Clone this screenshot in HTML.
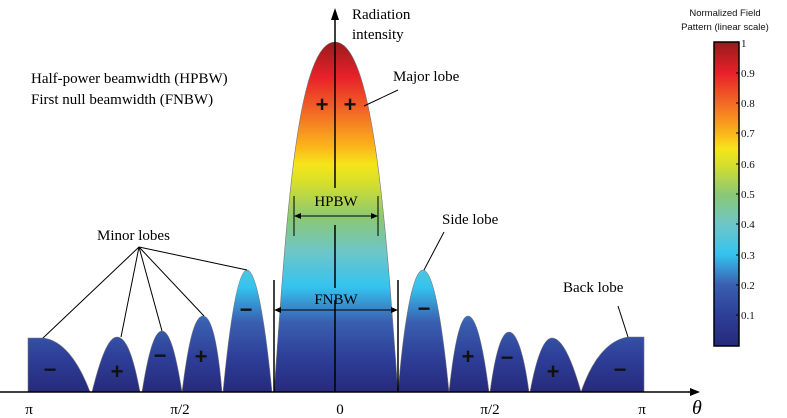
<!DOCTYPE html>
<html><head><meta charset="utf-8"><style>
body{margin:0;background:#fff;}
svg{display:block;font-family:"Liberation Serif",serif;}
</style></head><body>
<svg width="787" height="418" viewBox="0 0 787 418" xmlns="http://www.w3.org/2000/svg">
<defs>
<linearGradient id="g" gradientUnits="userSpaceOnUse" x1="0" y1="392" x2="0" y2="42">
<stop offset="0" stop-color="#262a7a"/>
<stop offset="0.1" stop-color="#2e3f99"/>
<stop offset="0.2" stop-color="#3a5fb0"/>
<stop offset="0.3" stop-color="#34c3ef"/>
<stop offset="0.4" stop-color="#6dc6c8"/>
<stop offset="0.5" stop-color="#8cc873"/>
<stop offset="0.6" stop-color="#d7e02a"/>
<stop offset="0.65" stop-color="#f6e51a"/>
<stop offset="0.7" stop-color="#fbb61a"/>
<stop offset="0.8" stop-color="#f26a25"/>
<stop offset="0.9" stop-color="#e8212a"/>
<stop offset="1" stop-color="#9a1a1d"/>
</linearGradient>
<linearGradient id="cb" gradientUnits="userSpaceOnUse" x1="0" y1="345" x2="0" y2="43">
<stop offset="0" stop-color="#262a7a"/>
<stop offset="0.1" stop-color="#2e3f99"/>
<stop offset="0.2" stop-color="#3a5fb0"/>
<stop offset="0.3" stop-color="#34c3ef"/>
<stop offset="0.4" stop-color="#6dc6c8"/>
<stop offset="0.5" stop-color="#8cc873"/>
<stop offset="0.6" stop-color="#d7e02a"/>
<stop offset="0.65" stop-color="#f6e51a"/>
<stop offset="0.7" stop-color="#fbb61a"/>
<stop offset="0.8" stop-color="#f26a25"/>
<stop offset="0.9" stop-color="#e8212a"/>
<stop offset="1" stop-color="#9a1a1d"/>
</linearGradient>
</defs>
<g fill="url(#g)" stroke="#777" stroke-width="0.6">
<path d="M28,392 L28,338 L43,338 C62,340 78,360 90,392 Z"/>
<path d="M92,392 C100,360 108,337 117,337 C127,337 134,360 140,392 Z"/>
<path d="M142,392 C148,355 154,331 162,331 C170,331 176,355 182,392 Z"/>
<path d="M182,392 C188,345 194,316 203,316 C212,316 218,345 222,392 Z"/>
<path d="M223,392 C230,320 238,270 247,270 C256,270 265,320 272,392 Z"/>
<path d="M274,392 C286,230 296,42 335,42 C374,42 386,230 398,392 Z"/>
<path d="M398,392 C404,320 413,270 423,270 C433,270 442,320 449,392 Z"/>
<path d="M449,392 C454,345 460,316 468,316 C476,316 483,345 489,392 Z"/>
<path d="M490,392 C495,355 501,332 509,332 C517,332 524,355 529,392 Z"/>
<path d="M530,392 C536,360 543,338 552,338 C562,338 572,360 581,392 Z"/>
<path d="M581,392 C592,360 608,340 628,337 L644,337 L644,392 Z"/>
</g>
<g stroke="#000" fill="none" stroke-width="1.5">
<line x1="0" y1="392" x2="694" y2="392"/>
<line x1="335" y1="392" x2="335" y2="300"/>
<line x1="335" y1="288" x2="335" y2="225"/>
<line x1="335" y1="188" x2="335" y2="16"/>
<line x1="274" y1="280" x2="274" y2="392"/>
<line x1="398" y1="280" x2="398" y2="392"/>
<line x1="278" y1="310" x2="394" y2="310" stroke-width="1"/>
<line x1="294" y1="196" x2="294" y2="236" stroke-width="1"/>
<line x1="378" y1="196" x2="378" y2="236" stroke-width="1"/>
<line x1="298" y1="216" x2="374" y2="216" stroke-width="1"/>
</g>
<g fill="#000">
<polygon points="700,392 690,388 690,396"/>
<polygon points="335,8 331,20 339,20"/>
<polygon points="274,310 281,307 281,313"/>
<polygon points="398,310 391,307 391,313"/>
<polygon points="294,216 301,213 301,219"/>
<polygon points="378,216 371,213 371,219"/>
</g>
<g stroke="#000" stroke-width="1" fill="none">
<line x1="139" y1="247" x2="43" y2="338"/>
<line x1="139" y1="247" x2="121" y2="337"/>
<line x1="139" y1="247" x2="162" y2="331"/>
<line x1="139" y1="247" x2="204" y2="316"/>
<line x1="139" y1="247" x2="247" y2="270"/>
<line x1="444" y1="232" x2="424" y2="270"/>
<line x1="618" y1="306" x2="628" y2="337"/>
<line x1="398" y1="90" x2="364" y2="106"/>
</g>
<g font-size="15" fill="#000">
<text x="352" y="19">Radiation</text>
<text x="352" y="39">intensity</text>
<text x="31" y="83">Half-power beamwidth (HPBW)</text>
<text x="31" y="104">First null beamwidth (FNBW)</text>
<text x="393" y="81">Major lobe</text>
<text x="97" y="240">Minor lobes</text>
<text x="442" y="224">Side lobe</text>
<text x="563" y="292">Back lobe</text>
<text x="336" y="206" text-anchor="middle">HPBW</text>
<text x="336" y="304" text-anchor="middle">FNBW</text>
<text x="29" y="414" text-anchor="middle">π</text>
<text x="180" y="414" text-anchor="middle">π/2</text>
<text x="340" y="414" text-anchor="middle">0</text>
<text x="490" y="414" text-anchor="middle">π/2</text>
<text x="642" y="414" text-anchor="middle">π</text>
<text x="692" y="414" font-size="20" font-style="italic">θ</text>
</g>
<g font-family="Liberation Sans,sans-serif" font-size="22" font-weight="bold" fill="#111" text-anchor="middle">
<text x="322" y="112">+</text><text x="350" y="112">+</text>
<text x="50" y="377">−</text><text x="117" y="379">+</text><text x="160" y="363">−</text>
<text x="201" y="364">+</text><text x="246" y="317">−</text>
<text x="424" y="316">−</text><text x="468" y="364">+</text><text x="507" y="365">−</text>
<text x="553" y="379">+</text><text x="620" y="377">−</text>
</g>
<g font-family="Liberation Sans,sans-serif" font-size="9.5" fill="#111" text-anchor="middle">
<text x="725" y="16">Normalized Field</text>
<text x="725" y="30">Pattern (linear scale)</text>
</g>
<rect x="714" y="42" width="25" height="304" fill="url(#cb)" stroke="#000" stroke-width="1.5"/>
<g stroke="#000" stroke-width="1">
<line x1="736" y1="73" x2="739" y2="73"/><line x1="736" y1="103" x2="739" y2="103"/>
<line x1="736" y1="133" x2="739" y2="133"/><line x1="736" y1="164" x2="739" y2="164"/>
<line x1="736" y1="194" x2="739" y2="194"/><line x1="736" y1="224" x2="739" y2="224"/>
<line x1="736" y1="255" x2="739" y2="255"/><line x1="736" y1="285" x2="739" y2="285"/>
<line x1="736" y1="315" x2="739" y2="315"/>
</g>
<g font-size="11" fill="#111">
<text x="741" y="47">1</text><text x="741" y="77">0.9</text><text x="741" y="107">0.8</text>
<text x="741" y="137">0.7</text><text x="741" y="168">0.6</text><text x="741" y="198">0.5</text>
<text x="741" y="228">0.4</text><text x="741" y="259">0.3</text><text x="741" y="289">0.2</text>
<text x="741" y="319">0.1</text>
</g>
</svg>
</body></html>
